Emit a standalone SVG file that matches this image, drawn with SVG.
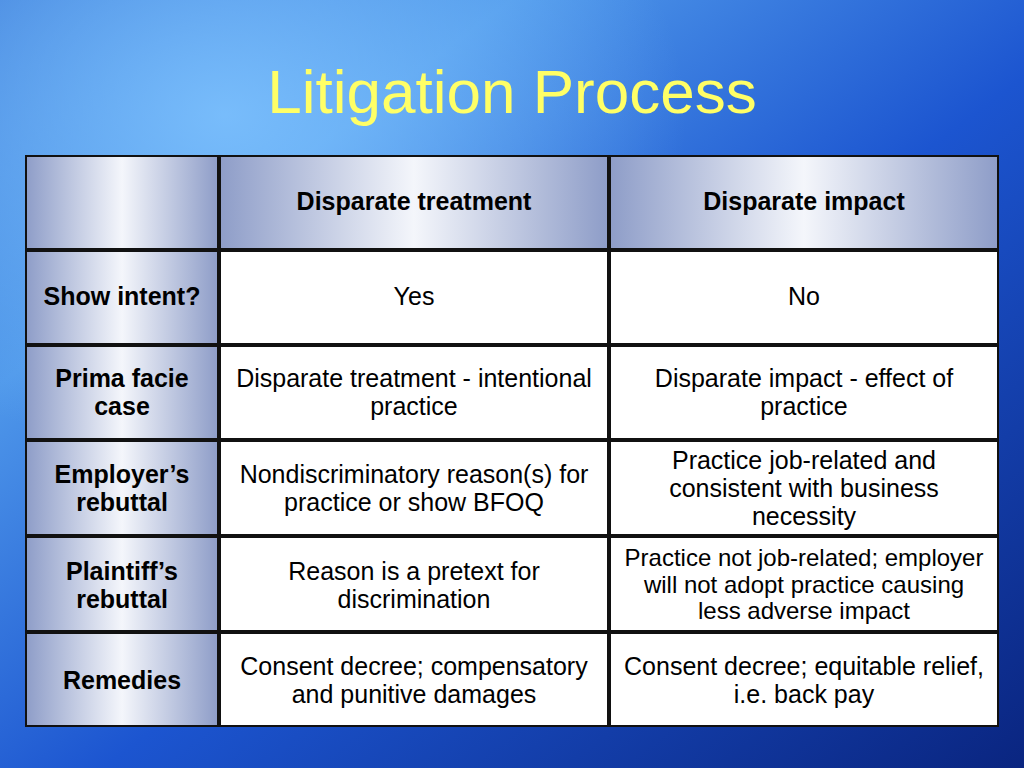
<svg xmlns="http://www.w3.org/2000/svg" width="1024" height="768" viewBox="0 0 1024 768">
<defs>
<linearGradient id="bg" x1="0" y1="0" x2="1" y2="1">
<stop offset="0" stop-color="#3a7ad8"/><stop offset="0.25" stop-color="#4f98ea"/><stop offset="0.55" stop-color="#1c55d0"/><stop offset="1" stop-color="#0a2580"/>
</linearGradient>
<radialGradient id="glow" cx="0.22" cy="0.15" r="0.45">
<stop offset="0" stop-color="#80c4ff" stop-opacity="0.85"/><stop offset="1" stop-color="#80c4ff" stop-opacity="0"/>
</radialGradient>
<linearGradient id="cell" x1="0" y1="0" x2="1" y2="0">
<stop offset="0" stop-color="#8e9dc8"/><stop offset="0.5" stop-color="#f4f6fb"/><stop offset="1" stop-color="#8e9dc8"/>
</linearGradient>
</defs>
<style>
.c{stroke:#111;stroke-width:2}
.g{fill:url(#cell)}
.w{fill:#fff}
text{font-family:"Liberation Sans",Arial,sans-serif;font-size:25px;fill:#000;text-anchor:middle}
.b{font-weight:bold}
.s{font-size:24px}
</style>
<rect width="1024" height="768" fill="url(#bg)"/>
<rect width="1024" height="768" fill="url(#glow)"/>
<text x="512" y="113" style="font-size:62px;fill:#ffff66">Litigation Process</text>
<g id="header">
<rect class="c g" x="26" y="156" width="192" height="93"/>
<rect class="c g" x="220" y="156" width="388" height="93"/>
<rect class="c g" x="610" y="156" width="388" height="93"/>
<text class="b" x="414" y="210">Disparate treatment</text>
<text class="b" x="804" y="210">Disparate impact</text>
</g>
<g id="row1">
<rect class="c g" x="26" y="251" width="192" height="93"/>
<rect class="c w" x="220" y="251" width="388" height="93"/>
<rect class="c w" x="610" y="251" width="388" height="93"/>
<text class="b" x="122" y="305">Show intent?</text>
<text x="414" y="305">Yes</text>
<text x="804" y="305">No</text>
</g>
<g id="row2">
<rect class="c g" x="26" y="346" width="192" height="93"/>
<rect class="c w" x="220" y="346" width="388" height="93"/>
<rect class="c w" x="610" y="346" width="388" height="93"/>
<text class="b" x="122" y="387">Prima facie</text><text class="b" x="122" y="415">case</text>
<text x="414" y="387">Disparate treatment - intentional</text><text x="414" y="415">practice</text>
<text x="804" y="387">Disparate impact - effect of</text><text x="804" y="415">practice</text>
</g>
<g id="row3">
<rect class="c g" x="26" y="441" width="192" height="94"/>
<rect class="c w" x="220" y="441" width="388" height="94"/>
<rect class="c w" x="610" y="441" width="388" height="94"/>
<text class="b" x="122" y="483">Employer’s</text><text class="b" x="122" y="511">rebuttal</text>
<text x="414" y="483">Nondiscriminatory reason(s) for</text><text x="414" y="511">practice or show BFOQ</text>
<text x="804" y="469">Practice job-related and</text><text x="804" y="497">consistent with business</text><text x="804" y="525">necessity</text>
</g>
<g id="row4">
<rect class="c g" x="26" y="537" width="192" height="94"/>
<rect class="c w" x="220" y="537" width="388" height="94"/>
<rect class="c w" x="610" y="537" width="388" height="94"/>
<text class="b" x="122" y="580">Plaintiff’s</text><text class="b" x="122" y="608">rebuttal</text>
<text x="414" y="580">Reason is a pretext for</text><text x="414" y="608">discrimination</text>
<text class="s" x="804" y="566">Practice not job-related; employer</text><text class="s" x="804" y="593">will not adopt practice causing</text><text class="s" x="804" y="619">less adverse impact</text>
</g>
<g id="row5">
<rect class="c g" x="26" y="633" width="192" height="93"/>
<rect class="c w" x="220" y="633" width="388" height="93"/>
<rect class="c w" x="610" y="633" width="388" height="93"/>
<text class="b" x="122" y="689">Remedies</text>
<text x="414" y="675">Consent decree; compensatory</text><text x="414" y="703">and punitive damages</text>
<text x="804" y="675">Consent decree; equitable relief,</text><text x="804" y="703">i.e. back pay</text>
</g>
<g id="connectors"/>
</svg>
